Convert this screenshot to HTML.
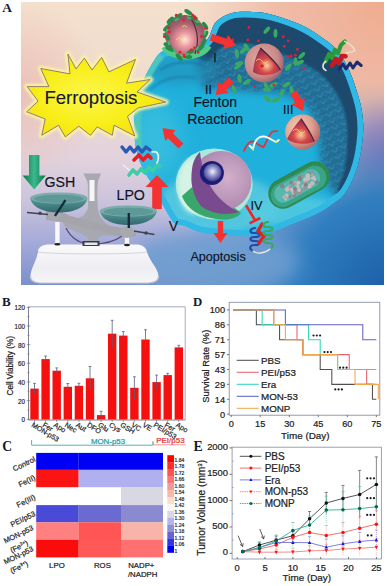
<!DOCTYPE html>
<html><head><meta charset="utf-8"><style>
html,body{margin:0;padding:0;background:#fff;}
svg{display:block;}
text{font-family:"Liberation Sans", sans-serif;}
.lab{font-family:"Liberation Serif", serif;font-weight:bold;}
</style></head><body>
<svg width="387" height="586" viewBox="0 0 387 586">
<rect width="387" height="586" fill="#fff"/>

<defs>
  <clipPath id="clipA"><rect x="21" y="2" width="363" height="283"/></clipPath>
  <clipPath id="clipCell"><path d="M174.4,223.0 C170.9,219.8 167.6,213.2 164.0,207.0 C160.4,200.8 156.7,192.8 153.0,186.0 C149.3,179.2 144.5,172.8 141.6,166.0 C138.7,159.2 136.7,152.3 135.5,145.5 C134.3,138.7 134.6,131.2 134.5,125.0 C134.4,118.8 134.4,113.5 135.0,108.0 C135.6,102.5 136.5,96.8 138.0,92.0 C139.5,87.2 141.6,83.8 144.0,79.0 C146.4,74.2 149.9,67.3 152.6,63.0 C155.3,58.7 157.1,55.2 160.0,53.0 C162.9,50.8 165.0,50.0 170.0,50.0 C175.0,50.0 183.8,54.7 190.0,53.0 C196.2,51.3 202.7,45.2 207.0,40.0 C211.3,34.8 211.8,26.5 216.0,22.0 C220.2,17.5 225.8,14.7 232.0,13.0 C238.2,11.3 246.2,11.7 253.0,12.0 C259.8,12.3 265.0,12.8 273.0,15.0 C281.0,17.2 293.0,21.3 301.0,25.0 C309.0,28.7 315.0,32.8 321.0,37.0 C327.0,41.2 332.3,44.5 337.0,50.0 C341.7,55.5 345.7,63.0 349.0,70.0 C352.3,77.0 354.8,85.0 357.0,92.0 C359.2,99.0 361.0,104.8 362.0,112.0 C363.0,119.2 363.7,126.2 363.0,135.0 C362.3,143.8 360.8,155.5 358.0,165.0 C355.2,174.5 350.3,185.5 346.0,192.0 C341.7,198.5 337.0,200.3 332.0,204.0 C327.0,207.7 322.3,210.8 316.0,214.0 C309.7,217.2 301.3,220.0 294.0,223.0 C286.7,226.0 279.3,229.8 272.0,232.0 C264.7,234.2 257.8,235.5 250.0,236.0 C242.2,236.5 233.3,235.7 225.0,235.0 C216.7,234.3 206.7,233.5 200.0,232.0 C193.3,230.5 189.3,227.5 185.0,226.0 C180.7,224.5 177.9,226.2 174.4,223.0 Z"/></clipPath>
  <filter id="blur2" x="-20%" y="-20%" width="140%" height="140%"><feGaussianBlur stdDeviation="2"/></filter>
  <filter id="blur4" x="-30%" y="-30%" width="160%" height="160%"><feGaussianBlur stdDeviation="4"/></filter>
  <filter id="blur1" x="-20%" y="-20%" width="140%" height="140%"><feGaussianBlur stdDeviation="1"/></filter>
  <filter id="blur8" x="-50%" y="-50%" width="200%" height="200%"><feGaussianBlur stdDeviation="10"/></filter>
  <pattern id="scales" x="0" y="0" width="10" height="7" patternUnits="userSpaceOnUse" patternTransform="rotate(-25)">
    <path d="M0,7 Q5,-1 10,7" fill="none" stroke="#3c90b0" stroke-width="1.1"/>
    <path d="M-5,3.5 Q0,-4.5 5,3.5 M5,3.5 Q10,-4.5 15,3.5" fill="none" stroke="#1e5a7c" stroke-width="0.8"/>
  </pattern>
  <linearGradient id="bgV" x1="0" y1="2" x2="0" y2="285" gradientUnits="userSpaceOnUse">
    <stop offset="0" stop-color="#f4e0cc"/>
    <stop offset="0.3" stop-color="#f0dcd0"/>
    <stop offset="0.55" stop-color="#e2d2dc"/>
    <stop offset="0.7" stop-color="#ccc4dc"/>
    <stop offset="0.85" stop-color="#a4aad8"/>
    <stop offset="1" stop-color="#7a90cc"/>
  </linearGradient>
  <radialGradient id="bgL" cx="15" cy="90" r="90" gradientUnits="userSpaceOnUse">
    <stop offset="0" stop-color="#eab8b0" stop-opacity="0.8"/>
    <stop offset="1" stop-color="#eab8b0" stop-opacity="0"/>
  </radialGradient>
  <radialGradient id="bgTR" cx="384" cy="2" r="200" gradientUnits="userSpaceOnUse">
    <stop offset="0" stop-color="#f0ac90" stop-opacity="1"/>
    <stop offset="0.55" stop-color="#eeb4a0" stop-opacity="0.8"/>
    <stop offset="1" stop-color="#f0c0b0" stop-opacity="0"/>
  </radialGradient>
  <radialGradient id="bgR" cx="392" cy="155" r="62" gradientUnits="userSpaceOnUse">
    <stop offset="0" stop-color="#b064b4" stop-opacity="1"/>
    <stop offset="0.5" stop-color="#c078b4" stop-opacity="0.7"/>
    <stop offset="1" stop-color="#d090b0" stop-opacity="0"/>
  </radialGradient>
  <radialGradient id="bgBR" cx="390" cy="290" r="210" gradientUnits="userSpaceOnUse">
    <stop offset="0" stop-color="#1c5ea8" stop-opacity="1"/>
    <stop offset="0.45" stop-color="#2a7cbe" stop-opacity="0.95"/>
    <stop offset="1" stop-color="#5a90c8" stop-opacity="0"/>
  </radialGradient>
  <radialGradient id="npG" cx="0.5" cy="0.62" r="0.6">
    <stop offset="0" stop-color="#fce8e0"/>
    <stop offset="0.3" stop-color="#ec98a0"/>
    <stop offset="0.7" stop-color="#a86070"/>
    <stop offset="1" stop-color="#8a5060"/>
  </radialGradient>
  <radialGradient id="np2G" cx="0.4" cy="0.4" r="0.65">
    <stop offset="0" stop-color="#e4aca4"/>
    <stop offset="0.7" stop-color="#c88888"/>
    <stop offset="1" stop-color="#9a6070"/>
  </radialGradient>
  <radialGradient id="np3G" cx="0.35" cy="0.35" r="0.7">
    <stop offset="0" stop-color="#f6c8b0"/>
    <stop offset="0.6" stop-color="#e0a090"/>
    <stop offset="1" stop-color="#b06868"/>
  </radialGradient>
  <radialGradient id="coreG" cx="0.5" cy="0.65" r="0.6">
    <stop offset="0" stop-color="#f8d0a0"/>
    <stop offset="0.45" stop-color="#d84848"/>
    <stop offset="1" stop-color="#8a3050"/>
  </radialGradient>
  <radialGradient id="starG" cx="0.45" cy="0.5" r="0.6">
    <stop offset="0" stop-color="#fcf650"/>
    <stop offset="0.6" stop-color="#f8ee18"/>
    <stop offset="1" stop-color="#f4e010"/>
  </radialGradient>
  <linearGradient id="greenArr" x1="0" y1="0" x2="1" y2="0">
    <stop offset="0" stop-color="#08783e"/>
    <stop offset="0.5" stop-color="#3cb890"/>
    <stop offset="1" stop-color="#08783e"/>
  </linearGradient>
  <linearGradient id="baseG" x1="0" y1="0" x2="0" y2="1">
    <stop offset="0" stop-color="#fafafc"/>
    <stop offset="0.6" stop-color="#eeeef2"/>
    <stop offset="1" stop-color="#f6f6f8"/>
  </linearGradient>
  <radialGradient id="nucG" cx="0.6" cy="0.45" r="0.6">
    <stop offset="0" stop-color="#d4b0cc"/>
    <stop offset="1" stop-color="#a884ac"/>
  </radialGradient>
  <radialGradient id="nucleolusG" cx="0.5" cy="0.45" r="0.6">
    <stop offset="0" stop-color="#f0f0ff"/>
    <stop offset="0.45" stop-color="#9090c8"/>
    <stop offset="1" stop-color="#2a2a80"/>
  </radialGradient>
  <linearGradient id="panG" x1="0" y1="0" x2="0" y2="1">
    <stop offset="0" stop-color="#5a9a9a"/>
    <stop offset="1" stop-color="#306a6c"/>
  </linearGradient>
</defs>
<g clip-path="url(#clipA)">
  <rect x="21" y="2" width="363" height="283" fill="url(#bgV)"/>
  <rect x="21" y="2" width="363" height="283" fill="url(#bgL)"/>
  <rect x="21" y="2" width="363" height="283" fill="url(#bgTR)"/>
  <rect x="21" y="2" width="363" height="283" fill="url(#bgR)"/>
  <rect x="21" y="2" width="363" height="283" fill="url(#bgBR)"/>
  <ellipse cx="215" cy="262" rx="85" ry="32" fill="#6e9ed0" opacity="0.9" filter="url(#blur8)"/>

  <!-- cell -->
  <g clip-path="url(#clipCell)">
    <rect x="120" y="0" width="260" height="250" fill="#20b0dc"/>
    <path d="M196.0,50.0 C197.3,39.0 206.0,28.7 212.0,22.0 C218.0,15.3 225.2,12.2 232.0,10.0 C238.8,7.8 246.2,8.7 253.0,9.0 C259.8,9.3 265.0,9.8 273.0,12.0 C281.0,14.2 293.0,18.3 301.0,22.0 C309.0,25.7 314.7,29.7 321.0,34.0 C327.3,38.3 333.8,42.0 339.0,48.0 C344.2,54.0 348.5,62.5 352.0,70.0 C355.5,77.5 357.7,85.8 360.0,93.0 C362.3,100.2 364.8,106.0 366.0,113.0 C367.2,120.0 367.5,127.2 367.0,135.0 C366.5,142.8 365.2,152.2 363.0,160.0 C360.8,167.8 357.2,176.0 354.0,182.0 C350.8,188.0 347.0,193.7 344.0,196.0 C341.0,198.3 339.0,198.7 336.0,196.0 C333.0,193.3 328.7,186.8 326.0,180.0 C323.3,173.2 321.3,163.3 320.0,155.0 C318.7,146.7 320.3,138.2 318.0,130.0 C315.7,121.8 311.7,112.0 306.0,106.0 C300.3,100.0 292.0,96.3 284.0,94.0 C276.0,91.7 266.0,92.7 258.0,92.0 C250.0,91.3 242.7,91.0 236.0,90.0 C229.3,89.0 223.3,86.3 218.0,86.0 C212.7,85.7 207.7,94.0 204.0,88.0 C200.3,82.0 194.7,61.0 196.0,50.0 Z" fill="#24709a" filter="url(#blur4)"/>
    <path d="M196.0,50.0 C197.3,39.0 206.0,28.7 212.0,22.0 C218.0,15.3 225.2,12.2 232.0,10.0 C238.8,7.8 246.2,8.7 253.0,9.0 C259.8,9.3 265.0,9.8 273.0,12.0 C281.0,14.2 293.0,18.3 301.0,22.0 C309.0,25.7 314.7,29.7 321.0,34.0 C327.3,38.3 333.8,42.0 339.0,48.0 C344.2,54.0 348.5,62.5 352.0,70.0 C355.5,77.5 357.7,85.8 360.0,93.0 C362.3,100.2 364.8,106.0 366.0,113.0 C367.2,120.0 367.5,127.2 367.0,135.0 C366.5,142.8 365.2,152.2 363.0,160.0 C360.8,167.8 357.2,176.0 354.0,182.0 C350.8,188.0 347.0,193.7 344.0,196.0 C341.0,198.3 339.0,198.7 336.0,196.0 C333.0,193.3 328.7,186.8 326.0,180.0 C323.3,173.2 321.3,163.3 320.0,155.0 C318.7,146.7 320.3,138.2 318.0,130.0 C315.7,121.8 311.7,112.0 306.0,106.0 C300.3,100.0 292.0,96.3 284.0,94.0 C276.0,91.7 266.0,92.7 258.0,92.0 C250.0,91.3 242.7,91.0 236.0,90.0 C229.3,89.0 223.3,86.3 218.0,86.0 C212.7,85.7 207.7,94.0 204.0,88.0 C200.3,82.0 194.7,61.0 196.0,50.0 Z" fill="url(#scales)" opacity="0.7"/>
    <path d="M196.0,50.0 C197.0,43.3 206.0,28.7 212.0,22.0 C218.0,15.3 225.2,12.2 232.0,10.0 C238.8,7.8 246.2,8.7 253.0,9.0 C259.8,9.3 265.0,9.8 273.0,12.0 C281.0,14.2 293.0,18.3 301.0,22.0 C309.0,25.7 314.7,29.7 321.0,34.0 C327.3,38.3 333.8,42.0 339.0,48.0 C344.2,54.0 348.5,62.5 352.0,70.0 C355.5,77.5 357.7,85.8 360.0,93.0 C362.3,100.2 364.8,106.0 366.0,113.0 C367.2,120.0 367.5,127.2 367.0,135.0 C366.5,142.8 365.2,152.2 363.0,160.0 C360.8,167.8 357.2,176.0 354.0,182.0 C350.8,188.0 346.7,194.7 344.0,196.0 C341.3,197.3 338.0,194.0 338.0,190.0 C338.0,186.0 342.5,178.7 344.0,172.0 C345.5,165.3 346.7,159.0 347.0,150.0 C347.3,141.0 347.8,127.7 346.0,118.0 C344.2,108.3 340.7,99.7 336.0,92.0 C331.3,84.3 324.7,77.3 318.0,72.0 C311.3,66.7 303.7,63.7 296.0,60.0 C288.3,56.3 279.7,52.7 272.0,50.0 C264.3,47.3 256.7,45.0 250.0,44.0 C243.3,43.0 237.3,43.0 232.0,44.0 C226.7,45.0 222.3,47.0 218.0,50.0 C213.7,53.0 209.7,62.0 206.0,62.0 C202.3,62.0 195.0,56.7 196.0,50.0 Z" fill="#1a4a6c" filter="url(#blur1)"/>
    <ellipse cx="182" cy="70" rx="36" ry="15" fill="#2490b8" opacity="0.6" filter="url(#blur4)"/>
    <ellipse cx="155" cy="140" rx="26" ry="40" fill="#44c4e0" opacity="0.6" filter="url(#blur8)"/>
    <g fill="none" stroke="#1a6488" stroke-width="1.6" opacity="0.55" filter="url(#blur1)">
      <path d="M150,90 C160,80 176,74 196,78"/>
      <path d="M160,70 C172,62 188,60 206,66"/>
      <path d="M190,58 C200,56 210,58 220,64"/>
    </g>
    <ellipse cx="218" cy="205" rx="62" ry="30" fill="#60cce0" opacity="0.8" filter="url(#blur4)"/>
    <ellipse cx="295" cy="212" rx="50" ry="16" fill="#58cce0" opacity="0.8" filter="url(#blur4)"/>
    <path d="M174.4,223.0 C170.9,219.8 167.6,213.2 164.0,207.0 C160.4,200.8 156.7,192.8 153.0,186.0 C149.3,179.2 144.5,172.8 141.6,166.0 C138.7,159.2 136.7,152.3 135.5,145.5 C134.3,138.7 134.6,131.2 134.5,125.0 C134.4,118.8 134.4,113.5 135.0,108.0 C135.6,102.5 136.5,96.8 138.0,92.0 C139.5,87.2 141.6,83.8 144.0,79.0 C146.4,74.2 149.9,67.3 152.6,63.0 C155.3,58.7 157.1,55.2 160.0,53.0 C162.9,50.8 165.0,50.0 170.0,50.0 C175.0,50.0 183.8,54.7 190.0,53.0 C196.2,51.3 202.7,45.2 207.0,40.0 C211.3,34.8 211.8,26.5 216.0,22.0 C220.2,17.5 225.8,14.7 232.0,13.0 C238.2,11.3 246.2,11.7 253.0,12.0 C259.8,12.3 265.0,12.8 273.0,15.0 C281.0,17.2 293.0,21.3 301.0,25.0 C309.0,28.7 315.0,32.8 321.0,37.0 C327.0,41.2 332.3,44.5 337.0,50.0 C341.7,55.5 345.7,63.0 349.0,70.0 C352.3,77.0 354.8,85.0 357.0,92.0 C359.2,99.0 361.0,104.8 362.0,112.0 C363.0,119.2 363.7,126.2 363.0,135.0 C362.3,143.8 360.8,155.5 358.0,165.0 C355.2,174.5 350.3,185.5 346.0,192.0 C341.7,198.5 337.0,200.3 332.0,204.0 C327.0,207.7 322.3,210.8 316.0,214.0 C309.7,217.2 301.3,220.0 294.0,223.0 C286.7,226.0 279.3,229.8 272.0,232.0 C264.7,234.2 257.8,235.5 250.0,236.0 C242.2,236.5 233.3,235.7 225.0,235.0 C216.7,234.3 206.7,233.5 200.0,232.0 C193.3,230.5 189.3,227.5 185.0,226.0 C180.7,224.5 177.9,226.2 174.4,223.0 Z" fill="none" stroke="#32b8e4" stroke-width="11.5"/>
    <path d="M160,54 C150,64 142,78 138,96 C135,112 135,130 137,150" fill="none" stroke="#50c8bc" stroke-width="11" opacity="0.9" filter="url(#blur1)"/>
  </g>

  <!-- star glow + star -->
  <polygon points="67.9,54 70,73.9 40.8,68.5 48.9,86.6 27.2,86.6 38.1,101.1 26.7,111.8 45.2,119 41.8,135.3 58.6,125.2 65.3,137 78.7,126.2 90.5,135.3 97.2,126.9 112.3,135.3 114,125.2 134.8,136 127.5,116.3 137.9,108 165.7,102 137,92 150.2,79.5 126.5,83.2 135.5,59.4 108.9,71.9 101.7,57.4 92,70 84.4,58.1 76.1,68.9" fill="#fcf890" stroke="#faf4a0" stroke-width="6" stroke-linejoin="round" opacity="0.9" filter="url(#blur1)"/>
  <polygon points="67.9,54 70,73.9 40.8,68.5 48.9,86.6 27.2,86.6 38.1,101.1 26.7,111.8 45.2,119 41.8,135.3 58.6,125.2 65.3,137 78.7,126.2 90.5,135.3 97.2,126.9 112.3,135.3 114,125.2 134.8,136 127.5,116.3 137.9,108 165.7,102 137,92 150.2,79.5 126.5,83.2 135.5,59.4 108.9,71.9 101.7,57.4 92,70 84.4,58.1 76.1,68.9" fill="url(#starG)" stroke="#8a7070" stroke-width="0.9" stroke-linejoin="miter"/>
  <text x="44.4" y="103.8" font-size="18.6" fill="#141830" stroke="#141830" stroke-width="0.12">Ferroptosis</text>

  <!-- nanoparticle 1 -->
  <path d="M164,47 C170,59 200,61 209,46" fill="none" stroke="#50cc88" stroke-width="5.5"/>
  <circle cx="185" cy="35" r="20" fill="url(#npG)"/>
  <path d="M189,16 C197,26 200,40 195,54" fill="none" stroke="#5a2838" stroke-width="1.2"/>
  <path d="M176,40 q3,-4 6,0 q3,4 6,0 M182,27 q2,-3 5,0" fill="none" stroke="#f0e070" stroke-width="0.8"/>
  <g fill="#2a8a4a"><ellipse cx="205.4" cy="34.7" rx="4.6" ry="2.1" transform="rotate(119 205.4 34.7)"/><ellipse cx="203.6" cy="42.5" rx="4.6" ry="2.1" transform="rotate(118 203.6 42.5)"/><ellipse cx="200.5" cy="47.8" rx="4.6" ry="2.1" transform="rotate(139 200.5 47.8)"/><ellipse cx="190.3" cy="51.8" rx="4.6" ry="2.1" transform="rotate(149 190.3 51.8)"/><ellipse cx="187.7" cy="56.7" rx="4.6" ry="2.1" transform="rotate(187 187.7 56.7)"/><ellipse cx="179.2" cy="57.2" rx="4.6" ry="2.1" transform="rotate(227 179.2 57.2)"/><ellipse cx="169.7" cy="48.9" rx="4.6" ry="2.1" transform="rotate(204 169.7 48.9)"/><ellipse cx="167.7" cy="45.3" rx="4.6" ry="2.1" transform="rotate(208 167.7 45.3)"/><ellipse cx="166.6" cy="36.7" rx="4.6" ry="2.1" transform="rotate(232 166.6 36.7)"/><ellipse cx="166.8" cy="27.7" rx="4.6" ry="2.1" transform="rotate(316 166.8 27.7)"/><ellipse cx="170.3" cy="20.2" rx="4.6" ry="2.1" transform="rotate(315 170.3 20.2)"/><ellipse cx="178.3" cy="16.4" rx="4.6" ry="2.1" transform="rotate(325 178.3 16.4)"/><ellipse cx="188.4" cy="12.3" rx="4.6" ry="2.1" transform="rotate(392 188.4 12.3)"/><ellipse cx="193.3" cy="18.0" rx="4.6" ry="2.1" transform="rotate(367 193.3 18.0)"/><ellipse cx="196.5" cy="21.9" rx="4.6" ry="2.1" transform="rotate(420 196.5 21.9)"/><ellipse cx="205.1" cy="25.9" rx="4.6" ry="2.1" transform="rotate(418 205.1 25.9)"/></g>
  <g fill="#48b070"><ellipse cx="204.7" cy="32.7" rx="2.6" ry="1.2" transform="rotate(94 204.7 32.7)"/><ellipse cx="197.2" cy="48.3" rx="2.6" ry="1.2" transform="rotate(120 197.2 48.3)"/><ellipse cx="187.0" cy="54.5" rx="2.6" ry="1.2" transform="rotate(160 187.0 54.5)"/><ellipse cx="174.8" cy="50.6" rx="2.6" ry="1.2" transform="rotate(233 174.8 50.6)"/><ellipse cx="169.0" cy="43.0" rx="2.6" ry="1.2" transform="rotate(272 169.0 43.0)"/><ellipse cx="167.8" cy="29.6" rx="2.6" ry="1.2" transform="rotate(309 167.8 29.6)"/><ellipse cx="176.8" cy="19.4" rx="2.6" ry="1.2" transform="rotate(336 176.8 19.4)"/><ellipse cx="188.9" cy="17.8" rx="2.6" ry="1.2" transform="rotate(383 188.9 17.8)"/><ellipse cx="197.6" cy="21.7" rx="2.6" ry="1.2" transform="rotate(374 197.6 21.7)"/></g>
  <g fill="#e42030"><circle cx="183.9" cy="55.1" r="1.4"/><circle cx="176.3" cy="15.2" r="1.4"/><circle cx="191.3" cy="49.8" r="1.4"/><circle cx="194.6" cy="47.8" r="1.4"/><circle cx="183.5" cy="19.9" r="1.4"/><circle cx="169.4" cy="31.9" r="1.4"/><circle cx="180.0" cy="52.2" r="1.4"/><circle cx="195.2" cy="18.4" r="1.4"/><circle cx="201.4" cy="36.5" r="1.4"/><circle cx="198.2" cy="52.4" r="1.4"/><circle cx="192.8" cy="15.2" r="1.4"/><circle cx="194.6" cy="16.6" r="1.4"/><circle cx="205.1" cy="28.4" r="1.4"/><circle cx="184.1" cy="56.6" r="1.4"/><circle cx="164.3" cy="36.7" r="1.4"/><circle cx="168.6" cy="28.0" r="1.4"/></g>
  <!-- nanoparticle 2 -->
  <g fill="#3aa862"><ellipse cx="281.9" cy="92.9" rx="4.4" ry="2" transform="rotate(114 281.9 92.9)"/><ellipse cx="237.8" cy="66.5" rx="4.4" ry="2" transform="rotate(143 237.8 66.5)"/><ellipse cx="275.5" cy="33.4" rx="4.4" ry="2" transform="rotate(91 275.5 33.4)"/><ellipse cx="266.2" cy="86.0" rx="4.4" ry="2" transform="rotate(67 266.2 86.0)"/><ellipse cx="243.4" cy="50.6" rx="4.4" ry="2" transform="rotate(143 243.4 50.6)"/><ellipse cx="267.2" cy="89.8" rx="4.4" ry="2" transform="rotate(8 267.2 89.8)"/><ellipse cx="299.8" cy="62.5" rx="4.4" ry="2" transform="rotate(158 299.8 62.5)"/><ellipse cx="246.6" cy="47.3" rx="4.4" ry="2" transform="rotate(59 246.6 47.3)"/><ellipse cx="239.2" cy="63.4" rx="4.4" ry="2" transform="rotate(171 239.2 63.4)"/><ellipse cx="246.8" cy="81.9" rx="4.4" ry="2" transform="rotate(147 246.8 81.9)"/><ellipse cx="291.6" cy="90.4" rx="4.4" ry="2" transform="rotate(82 291.6 90.4)"/><ellipse cx="236.9" cy="53.7" rx="4.4" ry="2" transform="rotate(87 236.9 53.7)"/><ellipse cx="273.3" cy="84.8" rx="4.4" ry="2" transform="rotate(156 273.3 84.8)"/><ellipse cx="267.6" cy="99.1" rx="4.4" ry="2" transform="rotate(38 267.6 99.1)"/><ellipse cx="301.7" cy="55.6" rx="4.4" ry="2" transform="rotate(136 301.7 55.6)"/><ellipse cx="266.8" cy="30.2" rx="4.4" ry="2" transform="rotate(131 266.8 30.2)"/><ellipse cx="286.5" cy="84.6" rx="4.4" ry="2" transform="rotate(149 286.5 84.6)"/><ellipse cx="275.9" cy="99.9" rx="4.4" ry="2" transform="rotate(160 275.9 99.9)"/><ellipse cx="239.6" cy="78.7" rx="4.4" ry="2" transform="rotate(81 239.6 78.7)"/><ellipse cx="234.1" cy="89.2" rx="4.4" ry="2" transform="rotate(70 234.1 89.2)"/><ellipse cx="288.4" cy="67.1" rx="4.4" ry="2" transform="rotate(129 288.4 67.1)"/><ellipse cx="295.6" cy="61.6" rx="4.4" ry="2" transform="rotate(88 295.6 61.6)"/></g>
  <g fill="#e42030"><circle cx="287.9" cy="56.6" r="1.4"/><circle cx="303.7" cy="68.9" r="1.4"/><circle cx="273.9" cy="85.1" r="1.4"/><circle cx="247.8" cy="40.0" r="1.4"/><circle cx="284.3" cy="46.3" r="1.4"/><circle cx="291.1" cy="56.0" r="1.4"/><circle cx="233.0" cy="40.0" r="1.4"/><circle cx="248.9" cy="27.5" r="1.4"/><circle cx="258.3" cy="40.9" r="1.4"/><circle cx="288.2" cy="40.9" r="1.4"/><circle cx="254.7" cy="86.6" r="1.4"/><circle cx="283.3" cy="36.7" r="1.4"/><circle cx="297.4" cy="49.4" r="1.4"/><circle cx="295.4" cy="55.2" r="1.4"/></g>
  <circle cx="264.2" cy="63" r="19.5" fill="url(#np2G)"/>
  <path d="M260.3,48 C267,54 276,62 280.5,70 C272,76 261,77 253,72 C254,63 256,55 260.3,48 Z" fill="url(#coreG)"/>
  <path d="M260.3,48 C267,54 276,62 280.5,70" fill="none" stroke="#502040" stroke-width="1.3"/>
  <path d="M256,61 q3,-4 6,0 q3,4 6,0" fill="none" stroke="#f8e070" stroke-width="0.8"/>
  <circle cx="262" cy="66" r="1.8" fill="#e02020"/>
  <!-- nanoparticle 3 -->
  <circle cx="302.7" cy="132" r="17.5" fill="url(#np3G)"/>
  <path d="M301,118.7 C306,126 311,134 314.3,141.4 C306,145 295,145 287,139 C291,131 296,124 301,118.7 Z" fill="url(#coreG)"/>
  <path d="M301,118.7 C306,126 311,134 314.3,141.4" fill="none" stroke="#502040" stroke-width="1.2"/>
  <path d="M293,131 q3,-4 6,0 q3,4 6,0" fill="none" stroke="#f8e070" stroke-width="0.8"/>

  <!-- mitochondria -->
  <g transform="rotate(-29 299 185)">
    <rect x="266" y="170" width="66" height="30" rx="15" fill="#2c8a52"/>
    <rect x="268" y="174" width="60" height="24" rx="12" fill="#3aa486"/>
    <rect x="272" y="176" width="50" height="18" rx="9" fill="#58b8b0"/>
    <circle cx="302.7" cy="188.4" r="2.2" fill="#b4a8a8"/><circle cx="310.9" cy="188.9" r="1.5" fill="#b4a8a8"/><circle cx="313.2" cy="179.6" r="1.8" fill="#8a8088"/><circle cx="293.5" cy="179.4" r="1.5" fill="#8a8088"/><circle cx="294.5" cy="180.5" r="2.2" fill="#9a9098"/><circle cx="285.1" cy="189.2" r="1.4" fill="#9a9098"/><circle cx="283.8" cy="178.0" r="2.2" fill="#8a8088"/><circle cx="308.4" cy="191.4" r="1.4" fill="#8a8088"/><circle cx="290.0" cy="191.5" r="1.8" fill="#8a8088"/><circle cx="285.9" cy="191.6" r="1.4" fill="#9a9098"/><circle cx="290.4" cy="183.1" r="1.4" fill="#8a8088"/><circle cx="289.0" cy="182.6" r="2.2" fill="#b4a8a8"/><circle cx="301.6" cy="187.9" r="1.3" fill="#c8bcbc"/><circle cx="310.1" cy="184.7" r="1.6" fill="#9a9098"/><circle cx="297.0" cy="180.5" r="1.5" fill="#b4a8a8"/><circle cx="315.1" cy="183.0" r="1.7" fill="#9a9098"/><circle cx="292.9" cy="186.1" r="1.2" fill="#b4a8a8"/><circle cx="305.9" cy="186.7" r="2.3" fill="#b4a8a8"/><circle cx="307.7" cy="191.0" r="2.3" fill="#c8bcbc"/><circle cx="298.5" cy="190.5" r="1.5" fill="#9a9098"/><circle cx="283.1" cy="188.5" r="2.2" fill="#c8bcbc"/><circle cx="280.4" cy="191.2" r="1.3" fill="#c8bcbc"/><circle cx="298.5" cy="183.1" r="1.4" fill="#c8bcbc"/><circle cx="314.1" cy="185.6" r="1.6" fill="#c8bcbc"/><circle cx="290.6" cy="189.2" r="2.0" fill="#c8bcbc"/><circle cx="316.9" cy="180.3" r="1.3" fill="#9a9098"/><circle cx="280.2" cy="188.4" r="1.6" fill="#c8bcbc"/><circle cx="296.3" cy="183.9" r="1.3" fill="#b4a8a8"/><circle cx="309.5" cy="182.7" r="1.4" fill="#8a8088"/><circle cx="303.0" cy="189.0" r="1.3" fill="#9a9098"/><circle cx="293.2" cy="178.8" r="1.7" fill="#8a8088"/><circle cx="296.2" cy="192.0" r="2.2" fill="#9a9098"/><circle cx="315.5" cy="187.6" r="1.6" fill="#c8bcbc"/><circle cx="290.1" cy="183.7" r="1.4" fill="#9a9098"/><circle cx="310.2" cy="185.4" r="1.4" fill="#9a9098"/><circle cx="312.0" cy="180.5" r="1.8" fill="#c8bcbc"/><circle cx="281.4" cy="189.1" r="1.6" fill="#b4a8a8"/><circle cx="307.9" cy="183.1" r="2.0" fill="#c8bcbc"/><circle cx="310.7" cy="181.7" r="2.4" fill="#c8bcbc"/><circle cx="315.4" cy="182.8" r="1.4" fill="#b4a8a8"/><circle cx="297.0" cy="188.8" r="1.6" fill="#c8bcbc"/><circle cx="296.6" cy="189.4" r="2.0" fill="#c8bcbc"/><circle cx="292.2" cy="187.0" r="2.1" fill="#9a9098"/><circle cx="292.3" cy="189.8" r="2.2" fill="#9a9098"/><circle cx="316.1" cy="191.4" r="1.8" fill="#8a8088"/><circle cx="286.5" cy="183.1" r="2.2" fill="#c8bcbc"/><circle cx="305.3" cy="188.1" r="2.1" fill="#8a8088"/><circle cx="302.4" cy="191.1" r="1.8" fill="#9a9098"/><circle cx="290.5" cy="185.7" r="2.2" fill="#c8bcbc"/><circle cx="306.4" cy="178.4" r="1.4" fill="#9a9098"/><circle cx="302.7" cy="180.5" r="2.1" fill="#8a8088"/><circle cx="303.0" cy="178.6" r="1.8" fill="#8a8088"/><circle cx="285.3" cy="190.5" r="1.3" fill="#8a8088"/><circle cx="297.3" cy="185.7" r="1.7" fill="#c8bcbc"/><circle cx="293.5" cy="186.6" r="1.9" fill="#8a8088"/><circle cx="306.3" cy="183.2" r="1.6" fill="#c8bcbc"/><circle cx="311.5" cy="190.1" r="2.0" fill="#c8bcbc"/><circle cx="315.6" cy="185.7" r="1.6" fill="#c8bcbc"/><circle cx="299.7" cy="182.8" r="1.9" fill="#c8bcbc"/><circle cx="310.1" cy="183.9" r="2.2" fill="#c8bcbc"/>
  </g>
  <!-- nucleus -->
  <ellipse cx="214.2" cy="184" rx="38.5" ry="35.5" fill="#ace8da"/>
  <ellipse cx="194" cy="186" rx="16" ry="28" fill="#dcf6e6" opacity="0.85" filter="url(#blur2)"/>
  <path d="M182,196 C187,210 202,219 224,219.5 C232,219.5 238,217 241,213 L200,180 Z" fill="#3aa66a"/>
  <circle cx="221.5" cy="181" r="30" fill="url(#nucG)"/>
  <path d="M200,152 C203,180 215,200 239,212 C227,216 211,214 201,206 C193,197 190,182 192,169 C193,161 196,156 200,152 Z" fill="#7a4a8e"/>
  <circle cx="211.9" cy="172.9" r="12" fill="#1c1c78"/>
  <circle cx="212.5" cy="172.5" r="9" fill="url(#nucleolusG)"/>
  <!-- red arrows -->
  <polygon points="209.8,40.4 224.5,45.3 223.2,49.1 236.0,45.5 227.9,34.9 226.7,38.7 212.0,33.8" fill="#f43232"/>
  <polygon points="229.1,77.6 221.2,85.0 218.5,82.0 215.5,95.0 228.7,93.0 226.0,90.1 233.9,82.8" fill="#f43232"/>
  <polygon points="290.5,93.6 295.0,102.7 291.4,104.5 303.0,111.0 304.8,97.8 301.3,99.6 296.7,90.4" fill="#f43232"/>
  <polygon points="183.4,143.5 172.8,133.2 175.6,130.3 162.5,128.0 165.2,141.0 167.9,138.2 178.6,148.5" fill="#f43232"/>
  <polygon points="161.8,209.0 161.8,187.0 168.5,187.0 157.0,175.0 145.5,187.0 152.2,187.0 152.2,209.0" fill="#f43232"/>
  <polygon points="217.8,221.0 217.8,233.0 213.5,233.0 220.5,243.0 227.5,233.0 223.2,233.0 223.2,221.0" fill="#f43232"/>
  <path d="M246,205.3 L255,220 M249.5,223.4 L260.3,218" stroke="#f02424" stroke-width="2.6" fill="none"/>

  <!-- protein ribbons -->
  <g fill="none" stroke-linecap="round">
    <path d="M325.7,61.3 L329,54 L332,58 L335,50 L338,53 L341,45 L344.8,41.4" stroke="#2a9a3a" stroke-width="4.2" stroke-linejoin="round"/>
    <path d="M344.8,41.4 C350,44 354,48 354.8,50.6 C352,52 349,53 346.3,52.8" stroke="#e4e0c8" stroke-width="1.6"/>
    <path d="M332,65.5 L336,59 L339,63 L342,56 L345.5,56.3" stroke="#c81820" stroke-width="4.6" stroke-linejoin="round"/>
    <path d="M339.1,69.1 L343,64 L346,69 L350,63 L353,68 L357,62 L361.2,65.5" stroke="#1a2a70" stroke-width="3" stroke-linejoin="round"/>
    <path d="M325.7,61.3 C322,64 322,69 326,70.5" stroke="#e8e4d0" stroke-width="1.6"/>
    <path d="M122,147 L126,152 L130,147 L134,152 L138,147 L142,152 L146,147 L150,150" stroke="#2a5ab4" stroke-width="3.4" stroke-linejoin="round"/>
    <path d="M134,160 L139,155 L143,160 L148,155 L151,158" stroke="#ec1c24" stroke-width="3.6" stroke-linejoin="round"/>
    <path d="M129,175 L133,170 L137,174 L141,169 L145,173 L149,167 L153,171 L157,165 L160,166" stroke="#3ccca8" stroke-width="3.6" stroke-linejoin="round"/>
    <path d="M152,152 C158,150 160,156 157,163" stroke="#f4f4ec" stroke-width="1.6"/>
    <path d="M123,165 L129,170" stroke="#f0f0ea" stroke-width="1.4"/>
    <path d="M255,228 C249,229 249,233 255,233 C261,233 261,237 255,237 C249,237 249,241 255,241 C261,241 261,245 255,245 C249,245 249,249 253,251" stroke="#2448a8" stroke-width="2.2"/>
    <path d="M262,224 L258,231 L264,236 L259,243" stroke="#e42020" stroke-width="3.4"/>
    <path d="M268,222 C262,223 262,227 268,227 C274,227 274,231 268,231 C262,231 262,235 268,235 C274,235 274,239 268,239 C262,239 262,243 268,243 C274,243 274,247 270,249" stroke="#38a860" stroke-width="2.2"/>
    <path d="M253,251 C256,254 264,254 270,249" stroke="#e8e8e0" stroke-width="1.3"/>
    <path d="M243.9,151 C246,146 248,142 251.6,141.3 C256,141 260,147 263.3,147.1 C266,144 269,134 272.3,131.6 L277.5,131" stroke="#e83030" stroke-width="1.7"/>
    <path d="M249.7,145.8 L252.9,149 C254,144 256,139 259.4,137.4 C262,136 264,136.5 265.8,136.8 C270,138 273,141 276.2,142 L278.8,140" stroke="#fafaf0" stroke-width="1.9"/>
    <circle cx="252.9" cy="149" r="1" fill="#f0e020"/><circle cx="276.2" cy="142" r="1" fill="#f0e020"/>
  </g>

  <!-- balance scale -->
  <path d="M38,252 C38,247 42,244.5 50,244.5 L136,244.5 C142,244.5 146,247 147,252 C150,262 158,268 158.5,276 C158.5,281 154,283 146,283 L42,283 C34,283 30.5,281 30.5,276 C31,268 36,262 38,252 Z" fill="url(#baseG)"/>
  <path d="M38,252 C50,254.5 136,254.5 147,252" fill="none" stroke="#d4d4dc" stroke-width="1"/>
  <path d="M30.5,276 C30.5,281 34,283 42,283 L146,283 C154,283 158.5,281 158.5,276" fill="none" stroke="#c8c8d2" stroke-width="1.2"/>
  <rect x="55.2" y="222" width="4.4" height="22" fill="#f8f8fa"/>
  <rect x="124.8" y="234" width="4.4" height="11" fill="#f8f8fa"/>
  <ellipse cx="57.4" cy="244.3" rx="3" ry="1.3" fill="#222"/>
  <ellipse cx="127" cy="245" rx="3" ry="1.3" fill="#222"/>
  <path d="M66,228 C72,240 82,244 92,244 C104,244 114,242 122,236" fill="none" stroke="#5a4876" stroke-width="1.3"/>
  <path d="M83.5,173.5 L101,173.5 L98,181 C97,190 97,200 98,210 C100,220 108,226 116,229 L124,229 L122,236 C112,236 102,234 98,238 L98,243 L88,243 L88,238 C84,234 74,232 64,226 L62,218 C72,220 84,220 87,210 C88,200 88,190 87,181 Z" fill="#a8a8b0"/>
  <path d="M87,181 C88,190 88,200 87,210" fill="none" stroke="#c8c8d0" stroke-width="1"/>
  <rect x="89.5" y="180" width="5" height="21" fill="#f6f6f8"/>
  <rect x="82.5" y="241" width="17" height="5" fill="#3a3a44"/>
  <rect x="84.5" y="242.5" width="13" height="2.5" fill="#e8e8ec"/>
  <path d="M46,209 C54,208 62,212 70,216 L90,221 L116,227 C124,228 130,229 136,231 L136,236 C128,237 120,236 112,234 L90,229 L68,223 C58,221 52,221 46,220 Z" fill="#a4a4aa"/>
  <ellipse cx="54" cy="215" rx="7" ry="6" fill="#a8a8b0"/>
  <ellipse cx="127" cy="232" rx="7" ry="6" fill="#a8a8b0"/>
  <line x1="27" y1="212.4" x2="48" y2="214.4" stroke="#404550" stroke-width="1.5"/>
  <circle cx="40" cy="213.3" r="1.8" fill="#404550"/>
  <line x1="134" y1="231" x2="154.4" y2="234.5" stroke="#404550" stroke-width="1.5"/>
  <circle cx="146" cy="233" r="1.8" fill="#404550"/>
  <path d="M30.2,198 C32,208 45,212.5 59,212.5 C73,212.5 86,208 87.5,198 Z" fill="url(#panG)"/>
  <ellipse cx="58.8" cy="198" rx="28.6" ry="5.6" fill="#7aacac"/>
  <ellipse cx="58.8" cy="198.8" rx="25" ry="4" fill="#5e9898"/>
  <path d="M100,211 C102,221 115,225 128,225 C141,225 155,221 157,211 Z" fill="url(#panG)"/>
  <ellipse cx="128.5" cy="211" rx="28.5" ry="5.6" fill="#7aacac"/>
  <ellipse cx="128.5" cy="211.8" rx="25" ry="4" fill="#5e9898"/>
  <path d="M65.3,200 C62,206 58,211 55,216" fill="none" stroke="#1a2a3a" stroke-width="2.4"/>
  <path d="M128.8,213 L128.8,228" stroke="#1a2a3a" stroke-width="2.4"/>

  <!-- green arrow -->
  <polygon points="29,155 39.4,155 39.4,175.5 45.8,175.5 34.2,189.5 22.6,175.5 29,175.5" fill="url(#greenArr)"/>

  <!-- text -->
  <g fill="#0e1424" stroke="#0e1424" stroke-width="0.15">
  <text x="44.5" y="186.6" font-size="14.2">GSH</text>
  <text x="116.5" y="199.8" font-size="14.2">LPO</text>
  <text x="168.8" y="231.4" font-size="14">V</text>
  <text x="250.5" y="209.8" font-size="12.8">IV</text>
  <text x="190.4" y="260.8" font-size="12.6">Apoptosis</text>
  <text x="213.2" y="62" font-size="12.4">I</text>
  <text x="205" y="93.5" font-size="12.4">II</text>
  <text x="283" y="114.2" font-size="12.4">III</text>
  <text x="215.2" y="106.5" font-size="14" text-anchor="middle">Fenton</text>
  <text x="215.2" y="123.6" font-size="14.2" text-anchor="middle">Reaction</text>
  </g>
</g>

<text class="lab" x="2.2" y="12.2" font-size="13.4" fill="#111a33">A</text>
<text class="lab" x="2.0" y="306.4" font-size="13" fill="#111a33">B</text>
<text class="lab" x="193.0" y="306.3" font-size="12.8" fill="#111a33">D</text>
<text class="lab" x="2.2" y="450.9" font-size="13.6" fill="#111a33">C</text>
<text class="lab" x="193.4" y="451.0" font-size="13.8" fill="#111a33">E</text>
<rect x="30.30" y="388.60" width="8.4" height="31.00" fill="#f50f0f"/>
<rect x="41.40" y="359.10" width="8.4" height="60.50" fill="#f50f0f"/>
<rect x="52.50" y="370.70" width="8.4" height="48.90" fill="#f50f0f"/>
<rect x="63.60" y="386.80" width="8.4" height="32.80" fill="#f50f0f"/>
<rect x="74.70" y="385.80" width="8.4" height="33.80" fill="#f50f0f"/>
<rect x="85.80" y="378.30" width="8.4" height="41.30" fill="#f50f0f"/>
<rect x="96.90" y="415.10" width="8.4" height="4.50" fill="#f50f0f"/>
<rect x="108.00" y="333.70" width="8.4" height="85.90" fill="#f50f0f"/>
<rect x="119.10" y="335.60" width="8.4" height="84.00" fill="#f50f0f"/>
<rect x="130.20" y="387.80" width="8.4" height="31.80" fill="#f50f0f"/>
<rect x="141.30" y="339.50" width="8.4" height="80.10" fill="#f50f0f"/>
<rect x="152.40" y="382.10" width="8.4" height="37.50" fill="#f50f0f"/>
<rect x="163.50" y="375.10" width="8.4" height="44.50" fill="#f50f0f"/>
<rect x="174.60" y="347.40" width="8.4" height="72.20" fill="#f50f0f"/>
<line x1="34.50" y1="383.40" x2="34.50" y2="393.80" stroke="#58607a" stroke-width="0.8"/>
<line x1="33.10" y1="383.40" x2="35.90" y2="383.40" stroke="#58607a" stroke-width="0.8"/>
<line x1="45.60" y1="356.00" x2="45.60" y2="362.20" stroke="#58607a" stroke-width="0.8"/>
<line x1="44.20" y1="356.00" x2="47.00" y2="356.00" stroke="#58607a" stroke-width="0.8"/>
<line x1="56.70" y1="367.90" x2="56.70" y2="373.50" stroke="#58607a" stroke-width="0.8"/>
<line x1="55.30" y1="367.90" x2="58.10" y2="367.90" stroke="#58607a" stroke-width="0.8"/>
<line x1="67.80" y1="383.50" x2="67.80" y2="390.10" stroke="#58607a" stroke-width="0.8"/>
<line x1="66.40" y1="383.50" x2="69.20" y2="383.50" stroke="#58607a" stroke-width="0.8"/>
<line x1="78.90" y1="383.30" x2="78.90" y2="388.30" stroke="#58607a" stroke-width="0.8"/>
<line x1="77.50" y1="383.30" x2="80.30" y2="383.30" stroke="#58607a" stroke-width="0.8"/>
<line x1="90.00" y1="366.50" x2="90.00" y2="390.10" stroke="#58607a" stroke-width="0.8"/>
<line x1="88.60" y1="366.50" x2="91.40" y2="366.50" stroke="#58607a" stroke-width="0.8"/>
<line x1="101.10" y1="411.30" x2="101.10" y2="418.90" stroke="#58607a" stroke-width="0.8"/>
<line x1="99.70" y1="411.30" x2="102.50" y2="411.30" stroke="#58607a" stroke-width="0.8"/>
<line x1="112.20" y1="320.30" x2="112.20" y2="347.10" stroke="#58607a" stroke-width="0.8"/>
<line x1="110.80" y1="320.30" x2="113.60" y2="320.30" stroke="#58607a" stroke-width="0.8"/>
<line x1="123.30" y1="331.60" x2="123.30" y2="339.60" stroke="#58607a" stroke-width="0.8"/>
<line x1="121.90" y1="331.60" x2="124.70" y2="331.60" stroke="#58607a" stroke-width="0.8"/>
<line x1="134.40" y1="376.80" x2="134.40" y2="398.80" stroke="#58607a" stroke-width="0.8"/>
<line x1="133.00" y1="376.80" x2="135.80" y2="376.80" stroke="#58607a" stroke-width="0.8"/>
<line x1="145.50" y1="329.70" x2="145.50" y2="349.30" stroke="#58607a" stroke-width="0.8"/>
<line x1="144.10" y1="329.70" x2="146.90" y2="329.70" stroke="#58607a" stroke-width="0.8"/>
<line x1="156.60" y1="375.10" x2="156.60" y2="389.10" stroke="#58607a" stroke-width="0.8"/>
<line x1="155.20" y1="375.10" x2="158.00" y2="375.10" stroke="#58607a" stroke-width="0.8"/>
<line x1="167.70" y1="373.30" x2="167.70" y2="376.90" stroke="#58607a" stroke-width="0.8"/>
<line x1="166.30" y1="373.30" x2="169.10" y2="373.30" stroke="#58607a" stroke-width="0.8"/>
<line x1="178.80" y1="345.30" x2="178.80" y2="349.50" stroke="#58607a" stroke-width="0.8"/>
<line x1="177.40" y1="345.30" x2="180.20" y2="345.30" stroke="#58607a" stroke-width="0.8"/>
<line x1="28.5" y1="306.8" x2="185.2" y2="306.8" stroke="#9aa0c0" stroke-width="0.9"/>
<line x1="185.2" y1="306.8" x2="185.2" y2="420" stroke="#a0a4b8" stroke-width="0.9"/>
<line x1="28.5" y1="306.8" x2="28.5" y2="420" stroke="#707480" stroke-width="0.9"/>
<line x1="28.5" y1="420" x2="185.2" y2="420" stroke="#707480" stroke-width="0.9"/>
<line x1="26.70" y1="419.30" x2="30.30" y2="419.30" stroke="#707480" stroke-width="0.7"/>
<text transform="translate(24.9,422.20) scale(0.84,1)" font-size="7.5" text-anchor="end" fill="#2a2a2a" stroke="#2a2a2a" stroke-width="0.22">0</text>
<line x1="27.50" y1="409.97" x2="29.50" y2="409.97" stroke="#707480" stroke-width="0.7"/>
<line x1="26.70" y1="400.63" x2="30.30" y2="400.63" stroke="#707480" stroke-width="0.7"/>
<text transform="translate(24.9,403.53) scale(0.84,1)" font-size="7.5" text-anchor="end" fill="#2a2a2a" stroke="#2a2a2a" stroke-width="0.22">20</text>
<line x1="27.50" y1="391.30" x2="29.50" y2="391.30" stroke="#707480" stroke-width="0.7"/>
<line x1="26.70" y1="381.97" x2="30.30" y2="381.97" stroke="#707480" stroke-width="0.7"/>
<text transform="translate(24.9,384.87) scale(0.84,1)" font-size="7.5" text-anchor="end" fill="#2a2a2a" stroke="#2a2a2a" stroke-width="0.22">40</text>
<line x1="27.50" y1="372.63" x2="29.50" y2="372.63" stroke="#707480" stroke-width="0.7"/>
<line x1="26.70" y1="363.30" x2="30.30" y2="363.30" stroke="#707480" stroke-width="0.7"/>
<text transform="translate(24.9,366.20) scale(0.84,1)" font-size="7.5" text-anchor="end" fill="#2a2a2a" stroke="#2a2a2a" stroke-width="0.22">60</text>
<line x1="27.50" y1="353.97" x2="29.50" y2="353.97" stroke="#707480" stroke-width="0.7"/>
<line x1="26.70" y1="344.64" x2="30.30" y2="344.64" stroke="#707480" stroke-width="0.7"/>
<text transform="translate(24.9,347.54) scale(0.84,1)" font-size="7.5" text-anchor="end" fill="#2a2a2a" stroke="#2a2a2a" stroke-width="0.22">80</text>
<line x1="27.50" y1="335.30" x2="29.50" y2="335.30" stroke="#707480" stroke-width="0.7"/>
<line x1="26.70" y1="325.97" x2="30.30" y2="325.97" stroke="#707480" stroke-width="0.7"/>
<text transform="translate(24.9,328.87) scale(0.84,1)" font-size="7.5" text-anchor="end" fill="#2a2a2a" stroke="#2a2a2a" stroke-width="0.22">100</text>
<line x1="27.50" y1="316.64" x2="29.50" y2="316.64" stroke="#707480" stroke-width="0.7"/>
<line x1="26.70" y1="307.30" x2="30.30" y2="307.30" stroke="#707480" stroke-width="0.7"/>
<text transform="translate(24.9,310.20) scale(0.84,1)" font-size="7.5" text-anchor="end" fill="#2a2a2a" stroke="#2a2a2a" stroke-width="0.22">120</text>
<line x1="34.50" y1="420" x2="34.50" y2="422" stroke="#707480" stroke-width="0.7"/>
<line x1="45.60" y1="420" x2="45.60" y2="422" stroke="#707480" stroke-width="0.7"/>
<line x1="56.70" y1="420" x2="56.70" y2="422" stroke="#707480" stroke-width="0.7"/>
<line x1="67.80" y1="420" x2="67.80" y2="422" stroke="#707480" stroke-width="0.7"/>
<line x1="78.90" y1="420" x2="78.90" y2="422" stroke="#707480" stroke-width="0.7"/>
<line x1="90.00" y1="420" x2="90.00" y2="422" stroke="#707480" stroke-width="0.7"/>
<line x1="101.10" y1="420" x2="101.10" y2="422" stroke="#707480" stroke-width="0.7"/>
<line x1="112.20" y1="420" x2="112.20" y2="422" stroke="#707480" stroke-width="0.7"/>
<line x1="123.30" y1="420" x2="123.30" y2="422" stroke="#707480" stroke-width="0.7"/>
<line x1="134.40" y1="420" x2="134.40" y2="422" stroke="#707480" stroke-width="0.7"/>
<line x1="145.50" y1="420" x2="145.50" y2="422" stroke="#707480" stroke-width="0.7"/>
<line x1="156.60" y1="420" x2="156.60" y2="422" stroke="#707480" stroke-width="0.7"/>
<line x1="167.70" y1="420" x2="167.70" y2="422" stroke="#707480" stroke-width="0.7"/>
<line x1="178.80" y1="420" x2="178.80" y2="422" stroke="#707480" stroke-width="0.7"/>
<text transform="translate(13.4,365.8) rotate(-90)" font-size="8.2" text-anchor="middle" fill="#222" stroke="#222" stroke-width="0.22">Cell Viability (%)</text>
<text transform="translate(30.90,426.3) rotate(31)" font-size="7.1" fill="#2a2a2a" stroke="#2a2a2a" stroke-width="0.22">MON-p53</text>
<text transform="translate(42.00,426.3) rotate(31)" font-size="7.1" fill="#2a2a2a" stroke="#2a2a2a" stroke-width="0.22">Fer</text>
<text transform="translate(53.10,426.3) rotate(31)" font-size="7.1" fill="#2a2a2a" stroke="#2a2a2a" stroke-width="0.22">Apo</text>
<text transform="translate(64.20,426.3) rotate(31)" font-size="7.1" fill="#2a2a2a" stroke="#2a2a2a" stroke-width="0.22">Nec</text>
<text transform="translate(75.30,426.3) rotate(31)" font-size="7.1" fill="#2a2a2a" stroke="#2a2a2a" stroke-width="0.22">Aut</text>
<text transform="translate(86.40,426.3) rotate(31)" font-size="7.1" fill="#2a2a2a" stroke="#2a2a2a" stroke-width="0.22">DFO</text>
<text transform="translate(97.50,426.3) rotate(31)" font-size="7.1" fill="#2a2a2a" stroke="#2a2a2a" stroke-width="0.22">Glu</text>
<text transform="translate(108.60,426.3) rotate(31)" font-size="7.1" fill="#2a2a2a" stroke="#2a2a2a" stroke-width="0.22">Cys</text>
<text transform="translate(119.70,426.3) rotate(31)" font-size="7.1" fill="#2a2a2a" stroke="#2a2a2a" stroke-width="0.22">GSH</text>
<text transform="translate(130.80,426.3) rotate(31)" font-size="7.1" fill="#2a2a2a" stroke="#2a2a2a" stroke-width="0.22">VC</text>
<text transform="translate(141.90,426.3) rotate(31)" font-size="7.1" fill="#2a2a2a" stroke="#2a2a2a" stroke-width="0.22">VE</text>
<text transform="translate(153.00,426.3) rotate(31)" font-size="7.1" fill="#2a2a2a" stroke="#2a2a2a" stroke-width="0.22">PEI/p53</text>
<text transform="translate(164.10,426.3) rotate(31)" font-size="7.1" fill="#2a2a2a" stroke="#2a2a2a" stroke-width="0.22">Fer</text>
<text transform="translate(175.20,426.3) rotate(31)" font-size="7.1" fill="#2a2a2a" stroke="#2a2a2a" stroke-width="0.22">Apo</text>
<polyline points="31.6,440 31.6,445.2 152.8,445.2 152.8,441.5" fill="none" stroke="#3ab0a8" stroke-width="0.9"/>
<text x="108" y="443.6" font-size="7.9" text-anchor="middle" fill="#1a9aa8" stroke="#1a9aa8" stroke-width="0.22">MON-p53</text>
<polyline points="153.4,441.5 153.4,444.8 186,444.8" fill="none" stroke="#f08a8a" stroke-width="0.9"/>
<text x="170.4" y="443.3" font-size="8" text-anchor="middle" fill="#e83030" stroke="#e83030" stroke-width="0.22">PEI/p53</text>
<rect x="229.2" y="302.3" width="150.6" height="112.9" fill="none" stroke="#8890a8" stroke-width="0.9"/>
<line x1="227" y1="309.90" x2="229.2" y2="309.90" stroke="#555" stroke-width="0.8"/>
<text x="225" y="313.20" font-size="9.2" text-anchor="end" fill="#222" stroke="#222" stroke-width="0.22">100</text>
<line x1="227" y1="324.81" x2="229.2" y2="324.81" stroke="#555" stroke-width="0.8"/>
<text x="225" y="328.11" font-size="9.2" text-anchor="end" fill="#222" stroke="#222" stroke-width="0.22">86</text>
<line x1="227" y1="339.73" x2="229.2" y2="339.73" stroke="#555" stroke-width="0.8"/>
<text x="225" y="343.03" font-size="9.2" text-anchor="end" fill="#222" stroke="#222" stroke-width="0.22">71</text>
<line x1="227" y1="354.64" x2="229.2" y2="354.64" stroke="#555" stroke-width="0.8"/>
<text x="225" y="357.94" font-size="9.2" text-anchor="end" fill="#222" stroke="#222" stroke-width="0.22">57</text>
<line x1="227" y1="369.46" x2="229.2" y2="369.46" stroke="#555" stroke-width="0.8"/>
<text x="225" y="372.76" font-size="9.2" text-anchor="end" fill="#222" stroke="#222" stroke-width="0.22">43</text>
<line x1="227" y1="384.37" x2="229.2" y2="384.37" stroke="#555" stroke-width="0.8"/>
<text x="225" y="387.67" font-size="9.2" text-anchor="end" fill="#222" stroke="#222" stroke-width="0.22">29</text>
<line x1="227" y1="399.29" x2="229.2" y2="399.29" stroke="#555" stroke-width="0.8"/>
<text x="225" y="402.59" font-size="9.2" text-anchor="end" fill="#222" stroke="#222" stroke-width="0.22">14</text>
<line x1="227" y1="414.20" x2="229.2" y2="414.20" stroke="#555" stroke-width="0.8"/>
<text x="225" y="417.50" font-size="9.2" text-anchor="end" fill="#222" stroke="#222" stroke-width="0.22">0</text>
<line x1="231.20" y1="415.2" x2="231.20" y2="417.2" stroke="#555" stroke-width="0.8"/>
<text x="231.20" y="426.8" font-size="9.2" text-anchor="middle" fill="#222" stroke="#222" stroke-width="0.22">0</text>
<line x1="260.22" y1="415.2" x2="260.22" y2="417.2" stroke="#555" stroke-width="0.8"/>
<text x="260.22" y="426.8" font-size="9.2" text-anchor="middle" fill="#222" stroke="#222" stroke-width="0.22">15</text>
<line x1="289.25" y1="415.2" x2="289.25" y2="417.2" stroke="#555" stroke-width="0.8"/>
<text x="289.25" y="426.8" font-size="9.2" text-anchor="middle" fill="#222" stroke="#222" stroke-width="0.22">30</text>
<line x1="318.27" y1="415.2" x2="318.27" y2="417.2" stroke="#555" stroke-width="0.8"/>
<text x="318.27" y="426.8" font-size="9.2" text-anchor="middle" fill="#222" stroke="#222" stroke-width="0.22">45</text>
<line x1="347.30" y1="415.2" x2="347.30" y2="417.2" stroke="#555" stroke-width="0.8"/>
<text x="347.30" y="426.8" font-size="9.2" text-anchor="middle" fill="#222" stroke="#222" stroke-width="0.22">60</text>
<line x1="376.32" y1="415.2" x2="376.32" y2="417.2" stroke="#555" stroke-width="0.8"/>
<text x="376.32" y="426.8" font-size="9.2" text-anchor="middle" fill="#222" stroke="#222" stroke-width="0.22">75</text>
<text x="305.3" y="438.6" font-size="9.9" text-anchor="middle" fill="#222" stroke="#222" stroke-width="0.22">Time (Day)</text>
<text transform="translate(209.4,366.2) rotate(-90)" font-size="9.4" text-anchor="middle" fill="#222" stroke="#222" stroke-width="0.22">Survival Rate (%)</text>
<path d="M233.13,309.90 H256.36 V324.81 H279.57 V339.73 H302.79 V354.64 H320.21 V369.46 H331.82 V384.37 H372.45 V399.29 H376.32 V399.29" fill="none" stroke="#505050" stroke-width="1.05"/>
<path d="M233.13,309.90 H273.77 V324.81 H296.99 V339.73 H302.79 V354.64 H349.24 V369.46 H366.65 V384.37 H376.32 V384.37" fill="none" stroke="#e86070" stroke-width="1.05"/>
<path d="M233.13,309.90 H262.16 V324.81 H308.60 V339.73 H320.21 V354.64 H337.62 V369.46 H376.32 V369.46" fill="none" stroke="#30d8b8" stroke-width="1.05"/>
<path d="M233.13,309.90 H285.38 V324.81 H362.78 V339.73 H376.32 V339.73" fill="none" stroke="#6060c8" stroke-width="1.05"/>
<path d="M233.13,309.90 H273.77 V324.81 H285.38 V339.73 H302.79 V354.64 H337.62 V369.46 H355.04 V384.37 H378.26 V399.29" fill="none" stroke="#f0a848" stroke-width="1.05"/>
<circle cx="313.50" cy="335.50" r="1.1" fill="#1a1a2a"/>
<circle cx="316.80" cy="335.50" r="1.1" fill="#1a1a2a"/>
<circle cx="320.10" cy="335.50" r="1.1" fill="#1a1a2a"/>
<circle cx="324.40" cy="352.10" r="1.1" fill="#1a1a2a"/>
<circle cx="327.70" cy="352.10" r="1.1" fill="#1a1a2a"/>
<circle cx="331.00" cy="352.10" r="1.1" fill="#1a1a2a"/>
<circle cx="340.00" cy="367.70" r="1.1" fill="#1a1a2a"/>
<circle cx="343.30" cy="367.70" r="1.1" fill="#1a1a2a"/>
<circle cx="346.60" cy="367.70" r="1.1" fill="#1a1a2a"/>
<circle cx="335.30" cy="389.40" r="1.1" fill="#1a1a2a"/>
<circle cx="338.60" cy="389.40" r="1.1" fill="#1a1a2a"/>
<circle cx="341.90" cy="389.40" r="1.1" fill="#1a1a2a"/>
<line x1="236.7" y1="360.30" x2="258.7" y2="360.30" stroke="#505050" stroke-width="1.05"/>
<text x="261" y="363.80" font-size="9.8" fill="#222" stroke="#222" stroke-width="0.22">PBS</text>
<line x1="236.7" y1="372.30" x2="258.7" y2="372.30" stroke="#e86070" stroke-width="1.05"/>
<text x="261" y="375.80" font-size="9.8" fill="#222" stroke="#222" stroke-width="0.22">PEI/p53</text>
<line x1="236.7" y1="384.30" x2="258.7" y2="384.30" stroke="#30d8b8" stroke-width="1.05"/>
<text x="261" y="387.80" font-size="9.8" fill="#222" stroke="#222" stroke-width="0.22">Era</text>
<line x1="236.7" y1="396.30" x2="258.7" y2="396.30" stroke="#6060c8" stroke-width="1.05"/>
<text x="261" y="399.80" font-size="9.8" fill="#222" stroke="#222" stroke-width="0.22">MON-53</text>
<line x1="236.7" y1="408.30" x2="258.7" y2="408.30" stroke="#f0a848" stroke-width="1.05"/>
<text x="261" y="411.80" font-size="9.8" fill="#222" stroke="#222" stroke-width="0.22">MONP</text>
<rect x="36.2" y="452.9" width="42.50" height="17.00" fill="#0000f5"/>
<rect x="78.6" y="452.9" width="42.50" height="17.00" fill="#0000f5"/>
<rect x="121.0" y="452.9" width="42.00" height="17.00" fill="#0000f5"/>
<rect x="36.2" y="469.8" width="42.50" height="17.70" fill="#fa1414"/>
<rect x="78.6" y="469.8" width="42.50" height="17.70" fill="#b0b0f0"/>
<rect x="121.0" y="469.8" width="42.00" height="17.70" fill="#b0b0f0"/>
<rect x="36.2" y="487.4" width="42.50" height="17.80" fill="#ffffff"/>
<rect x="78.6" y="487.4" width="42.50" height="17.80" fill="#ffffff"/>
<rect x="121.0" y="487.4" width="42.00" height="17.80" fill="#d8d8e2"/>
<rect x="36.2" y="505.1" width="42.50" height="17.30" fill="#4a4ad8"/>
<rect x="78.6" y="505.1" width="42.50" height="17.30" fill="#6a6ad0"/>
<rect x="121.0" y="505.1" width="42.00" height="17.30" fill="#8a8ad0"/>
<rect x="36.2" y="522.3" width="42.50" height="17.70" fill="#ff8080"/>
<rect x="78.6" y="522.3" width="42.50" height="17.70" fill="#ff5555"/>
<rect x="121.0" y="522.3" width="42.00" height="17.70" fill="#f8b4a8"/>
<rect x="36.2" y="539.9" width="42.50" height="17.50" fill="#fa0c0c"/>
<rect x="78.6" y="539.9" width="42.50" height="17.50" fill="#ff5858"/>
<rect x="121.0" y="539.9" width="42.00" height="17.50" fill="#ff7070"/>
<rect x="167.3" y="455.20" width="6.7" height="7.06" fill="#ff0000"/>
<rect x="167.3" y="462.16" width="6.7" height="7.06" fill="#ff2c2c"/>
<rect x="167.3" y="469.13" width="6.7" height="7.06" fill="#ff5252"/>
<rect x="167.3" y="476.09" width="6.7" height="7.06" fill="#ff7474"/>
<rect x="167.3" y="483.06" width="6.7" height="7.06" fill="#f09c9c"/>
<rect x="167.3" y="490.02" width="6.7" height="7.06" fill="#f8b8a8"/>
<rect x="167.3" y="496.99" width="6.7" height="7.06" fill="#fcdccc"/>
<rect x="167.3" y="503.95" width="6.7" height="7.06" fill="#f8f6f2"/>
<rect x="167.3" y="510.91" width="6.7" height="7.06" fill="#d8d8e2"/>
<rect x="167.3" y="517.88" width="6.7" height="7.06" fill="#b4b4f0"/>
<rect x="167.3" y="524.84" width="6.7" height="7.06" fill="#9090d4"/>
<rect x="167.3" y="531.81" width="6.7" height="7.06" fill="#6464d4"/>
<rect x="167.3" y="538.77" width="6.7" height="7.06" fill="#3434e4"/>
<rect x="167.3" y="545.74" width="6.7" height="7.06" fill="#0000f5"/>
<text x="174.6" y="461.50" font-size="5" fill="#333" stroke="#333" stroke-width="0.22">1.84</text>
<text x="174.6" y="468.00" font-size="5" fill="#333" stroke="#333" stroke-width="0.22">1.78</text>
<text x="174.6" y="474.50" font-size="5" fill="#333" stroke="#333" stroke-width="0.22">1.72</text>
<text x="174.6" y="481.00" font-size="5" fill="#333" stroke="#333" stroke-width="0.22">1.66</text>
<text x="174.6" y="487.50" font-size="5" fill="#333" stroke="#333" stroke-width="0.22">1.60</text>
<text x="174.6" y="494.00" font-size="5" fill="#333" stroke="#333" stroke-width="0.22">1.54</text>
<text x="174.6" y="500.50" font-size="5" fill="#333" stroke="#333" stroke-width="0.22">1.48</text>
<text x="174.6" y="507.00" font-size="5" fill="#333" stroke="#333" stroke-width="0.22">1.42</text>
<text x="174.6" y="513.50" font-size="5" fill="#333" stroke="#333" stroke-width="0.22">1.36</text>
<text x="174.6" y="520.00" font-size="5" fill="#333" stroke="#333" stroke-width="0.22">1.30</text>
<text x="174.6" y="526.50" font-size="5" fill="#333" stroke="#333" stroke-width="0.22">1.24</text>
<text x="174.6" y="533.00" font-size="5" fill="#333" stroke="#333" stroke-width="0.22">1.18</text>
<text x="174.6" y="539.50" font-size="5" fill="#333" stroke="#333" stroke-width="0.22">1.12</text>
<text x="174.6" y="546.00" font-size="5" fill="#333" stroke="#333" stroke-width="0.22">1.06</text>
<text x="174.6" y="552.90" font-size="5" fill="#333" stroke="#333" stroke-width="0.22">1</text>
<text transform="translate(36.0,461.00) rotate(-26)" font-size="7.5" text-anchor="end" fill="#2a2a2a" stroke="#2a2a2a" stroke-width="0.22">Control</text>
<text transform="translate(36.0,479.40) rotate(-26)" font-size="7.5" text-anchor="end" fill="#2a2a2a" stroke="#2a2a2a" stroke-width="0.22">Fe(II)</text>
<text transform="translate(36.0,498.90) rotate(-26)" font-size="7.5" text-anchor="end" fill="#2a2a2a" stroke="#2a2a2a" stroke-width="0.22">Fe(III)</text>
<text transform="translate(36.0,515.50) rotate(-26)" font-size="7.5" text-anchor="end" fill="#2a2a2a" stroke="#2a2a2a" stroke-width="0.22">PEI/p53</text>
<text transform="translate(5.2,543.60) rotate(-26)" font-size="7.4" fill="#2a2a2a" stroke="#2a2a2a" stroke-width="0.22">MON-p53</text>
<text transform="translate(5.2,564.60) rotate(-26)" font-size="7.4" fill="#2a2a2a" stroke="#2a2a2a" stroke-width="0.22">MON-p53</text>
<text transform="translate(11.8,553.0) rotate(-26)" font-size="7.4" fill="#2a2a2a" stroke="#2a2a2a" stroke-width="0.22">(Fe<tspan font-size="4.6" dy="-2.6">2+</tspan><tspan dy="2.6">)</tspan></text>
<text transform="translate(11.8,573.6) rotate(-26)" font-size="7.4" fill="#2a2a2a" stroke="#2a2a2a" stroke-width="0.22">(Fe<tspan font-size="4.6" dy="-2.6">3+</tspan><tspan dy="2.6">)</tspan></text>
<text x="56.9" y="567.6" font-size="7.8" text-anchor="middle" fill="#222" stroke="#222" stroke-width="0.22">LPO</text>
<text x="102.4" y="567.6" font-size="7.8" text-anchor="middle" fill="#222" stroke="#222" stroke-width="0.22">ROS</text>
<text x="141.3" y="567.6" font-size="7.8" text-anchor="middle" fill="#222" stroke="#222" stroke-width="0.22">NADP+</text>
<text x="142.7" y="576.6" font-size="7.8" text-anchor="middle" fill="#222" stroke="#222" stroke-width="0.22">/NADPH</text>
<rect x="232.1" y="447.2" width="149.3" height="111.8" fill="none" stroke="#9098a8" stroke-width="0.9"/>
<line x1="229.5" y1="553.30" x2="232.1" y2="553.30" stroke="#555" stroke-width="0.8"/>
<text x="228" y="555.40" font-size="9.4" text-anchor="end" fill="#222" stroke="#222" stroke-width="0.22">0</text>
<line x1="229.5" y1="526.95" x2="232.1" y2="526.95" stroke="#555" stroke-width="0.8"/>
<text x="228" y="529.05" font-size="9.4" text-anchor="end" fill="#222" stroke="#222" stroke-width="0.22">500</text>
<line x1="229.5" y1="500.60" x2="232.1" y2="500.60" stroke="#555" stroke-width="0.8"/>
<text x="228" y="502.70" font-size="9.4" text-anchor="end" fill="#222" stroke="#222" stroke-width="0.22">1000</text>
<line x1="229.5" y1="474.25" x2="232.1" y2="474.25" stroke="#555" stroke-width="0.8"/>
<text x="228" y="476.35" font-size="9.4" text-anchor="end" fill="#222" stroke="#222" stroke-width="0.22">1500</text>
<line x1="229.5" y1="447.90" x2="232.1" y2="447.90" stroke="#555" stroke-width="0.8"/>
<text x="228" y="450.00" font-size="9.4" text-anchor="end" fill="#222" stroke="#222" stroke-width="0.22">2000</text>
<line x1="232.1" y1="540.12" x2="233.6" y2="540.12" stroke="#777" stroke-width="0.6"/>
<line x1="232.1" y1="513.77" x2="233.6" y2="513.77" stroke="#777" stroke-width="0.6"/>
<line x1="232.1" y1="487.42" x2="233.6" y2="487.42" stroke="#777" stroke-width="0.6"/>
<line x1="232.1" y1="461.07" x2="233.6" y2="461.07" stroke="#777" stroke-width="0.6"/>
<line x1="237.20" y1="557" x2="237.20" y2="559" stroke="#555" stroke-width="0.8"/>
<text x="237.20" y="570.7" font-size="9.4" text-anchor="middle" fill="#222" stroke="#222" stroke-width="0.22">0</text>
<line x1="265.03" y1="557" x2="265.03" y2="559" stroke="#555" stroke-width="0.8"/>
<text x="265.03" y="570.7" font-size="9.4" text-anchor="middle" fill="#222" stroke="#222" stroke-width="0.22">5</text>
<line x1="292.87" y1="557" x2="292.87" y2="559" stroke="#555" stroke-width="0.8"/>
<text x="292.87" y="570.7" font-size="9.4" text-anchor="middle" fill="#222" stroke="#222" stroke-width="0.22">10</text>
<line x1="320.70" y1="557" x2="320.70" y2="559" stroke="#555" stroke-width="0.8"/>
<text x="320.70" y="570.7" font-size="9.4" text-anchor="middle" fill="#222" stroke="#222" stroke-width="0.22">15</text>
<line x1="348.54" y1="557" x2="348.54" y2="559" stroke="#555" stroke-width="0.8"/>
<text x="348.54" y="570.7" font-size="9.4" text-anchor="middle" fill="#222" stroke="#222" stroke-width="0.22">20</text>
<line x1="376.38" y1="557" x2="376.38" y2="559" stroke="#555" stroke-width="0.8"/>
<text x="376.38" y="570.7" font-size="9.4" text-anchor="middle" fill="#222" stroke="#222" stroke-width="0.22">25</text>
<text x="306.8" y="581.2" font-size="9.9" text-anchor="middle" fill="#222" stroke="#222" stroke-width="0.22">Time (Day)</text>
<text transform="translate(204.6,507.8) rotate(-90)" font-size="10.2" text-anchor="middle" fill="#222" stroke="#222" stroke-width="0.22">Tumor Volume (mm<tspan font-size="6" dy="-3">3</tspan><tspan dy="3">)</tspan></text>
<line x1="259.47" y1="542.00" x2="259.47" y2="548.00" stroke="#555" stroke-width="0.7"/>
<line x1="257.87" y1="542.00" x2="261.07" y2="542.00" stroke="#555" stroke-width="0.7"/>
<line x1="276.17" y1="536.00" x2="276.17" y2="544.40" stroke="#555" stroke-width="0.7"/>
<line x1="274.57" y1="536.00" x2="277.77" y2="536.00" stroke="#555" stroke-width="0.7"/>
<line x1="292.87" y1="531.00" x2="292.87" y2="540.40" stroke="#555" stroke-width="0.7"/>
<line x1="291.27" y1="531.00" x2="294.47" y2="531.00" stroke="#555" stroke-width="0.7"/>
<line x1="309.57" y1="511.50" x2="309.57" y2="526.10" stroke="#555" stroke-width="0.7"/>
<line x1="307.97" y1="511.50" x2="311.17" y2="511.50" stroke="#555" stroke-width="0.7"/>
<line x1="326.27" y1="492.40" x2="326.27" y2="513.60" stroke="#555" stroke-width="0.7"/>
<line x1="324.67" y1="492.40" x2="327.87" y2="492.40" stroke="#555" stroke-width="0.7"/>
<line x1="342.97" y1="485.40" x2="342.97" y2="511.40" stroke="#555" stroke-width="0.7"/>
<line x1="341.37" y1="485.40" x2="344.57" y2="485.40" stroke="#555" stroke-width="0.7"/>
<line x1="359.67" y1="470.40" x2="359.67" y2="518.60" stroke="#555" stroke-width="0.7"/>
<line x1="358.07" y1="470.40" x2="361.27" y2="470.40" stroke="#555" stroke-width="0.7"/>
<line x1="376.38" y1="456.90" x2="376.38" y2="511.90" stroke="#555" stroke-width="0.7"/>
<line x1="374.77" y1="456.90" x2="377.98" y2="456.90" stroke="#555" stroke-width="0.7"/>
<polyline points="242.77,551.60 259.47,545.00 276.17,540.20 292.87,535.70 309.57,518.80 326.27,503.00 342.97,498.40 359.67,494.50 376.38,484.40" fill="none" stroke="#404040" stroke-width="0.9"/>
<line x1="259.47" y1="545.00" x2="259.47" y2="553.00" stroke="#f09090" stroke-width="0.7" stroke-dasharray="1,1"/>
<line x1="257.87" y1="545.00" x2="261.07" y2="545.00" stroke="#f09090" stroke-width="0.7"/>
<line x1="276.17" y1="540.00" x2="276.17" y2="550.00" stroke="#f09090" stroke-width="0.7" stroke-dasharray="1,1"/>
<line x1="274.57" y1="540.00" x2="277.77" y2="540.00" stroke="#f09090" stroke-width="0.7"/>
<line x1="292.87" y1="531.30" x2="292.87" y2="543.30" stroke="#f09090" stroke-width="0.7" stroke-dasharray="1,1"/>
<line x1="291.27" y1="531.30" x2="294.47" y2="531.30" stroke="#f09090" stroke-width="0.7"/>
<line x1="309.57" y1="524.50" x2="309.57" y2="540.50" stroke="#f09090" stroke-width="0.7" stroke-dasharray="1,1"/>
<line x1="307.97" y1="524.50" x2="311.17" y2="524.50" stroke="#f09090" stroke-width="0.7"/>
<line x1="326.27" y1="525.50" x2="326.27" y2="545.50" stroke="#f09090" stroke-width="0.7" stroke-dasharray="1,1"/>
<line x1="324.67" y1="525.50" x2="327.87" y2="525.50" stroke="#f09090" stroke-width="0.7"/>
<line x1="342.97" y1="522.50" x2="342.97" y2="542.50" stroke="#f09090" stroke-width="0.7" stroke-dasharray="1,1"/>
<line x1="341.37" y1="522.50" x2="344.57" y2="522.50" stroke="#f09090" stroke-width="0.7"/>
<line x1="359.67" y1="516.30" x2="359.67" y2="540.30" stroke="#f09090" stroke-width="0.7" stroke-dasharray="1,1"/>
<line x1="358.07" y1="516.30" x2="361.27" y2="516.30" stroke="#f09090" stroke-width="0.7"/>
<line x1="376.38" y1="510.20" x2="376.38" y2="538.20" stroke="#f09090" stroke-width="0.7" stroke-dasharray="1,1"/>
<line x1="374.77" y1="510.20" x2="377.98" y2="510.20" stroke="#f09090" stroke-width="0.7"/>
<polyline points="242.77,551.60 259.47,549.00 276.17,545.00 292.87,537.30 309.57,532.50 326.27,535.50 342.97,532.50 359.67,528.30 376.38,524.20" fill="none" stroke="#f06060" stroke-width="0.9"/>
<line x1="259.47" y1="544.50" x2="259.47" y2="550.50" stroke="#9090d0" stroke-width="0.7" stroke-dasharray="1,1"/>
<line x1="257.87" y1="544.50" x2="261.07" y2="544.50" stroke="#9090d0" stroke-width="0.7"/>
<line x1="276.17" y1="538.50" x2="276.17" y2="546.50" stroke="#9090d0" stroke-width="0.7" stroke-dasharray="1,1"/>
<line x1="274.57" y1="538.50" x2="277.77" y2="538.50" stroke="#9090d0" stroke-width="0.7"/>
<line x1="292.87" y1="537.50" x2="292.87" y2="547.50" stroke="#9090d0" stroke-width="0.7" stroke-dasharray="1,1"/>
<line x1="291.27" y1="537.50" x2="294.47" y2="537.50" stroke="#9090d0" stroke-width="0.7"/>
<line x1="309.57" y1="536.70" x2="309.57" y2="548.70" stroke="#9090d0" stroke-width="0.7" stroke-dasharray="1,1"/>
<line x1="307.97" y1="536.70" x2="311.17" y2="536.70" stroke="#9090d0" stroke-width="0.7"/>
<line x1="326.27" y1="539.20" x2="326.27" y2="555.20" stroke="#9090d0" stroke-width="0.7" stroke-dasharray="1,1"/>
<line x1="324.67" y1="539.20" x2="327.87" y2="539.20" stroke="#9090d0" stroke-width="0.7"/>
<line x1="342.97" y1="535.80" x2="342.97" y2="551.80" stroke="#9090d0" stroke-width="0.7" stroke-dasharray="1,1"/>
<line x1="341.37" y1="535.80" x2="344.57" y2="535.80" stroke="#9090d0" stroke-width="0.7"/>
<line x1="359.67" y1="532.50" x2="359.67" y2="550.50" stroke="#9090d0" stroke-width="0.7" stroke-dasharray="1,1"/>
<line x1="358.07" y1="532.50" x2="361.27" y2="532.50" stroke="#9090d0" stroke-width="0.7"/>
<line x1="376.38" y1="530.00" x2="376.38" y2="550.00" stroke="#9090d0" stroke-width="0.7" stroke-dasharray="1,1"/>
<line x1="374.77" y1="530.00" x2="377.98" y2="530.00" stroke="#9090d0" stroke-width="0.7"/>
<polyline points="242.77,551.60 259.47,547.50 276.17,542.50 292.87,542.50 309.57,542.70 326.27,547.20 342.97,543.80 359.67,541.50 376.38,540.00" fill="none" stroke="#7070d8" stroke-width="0.9"/>
<line x1="259.47" y1="549.20" x2="259.47" y2="555.20" stroke="#f0a0a0" stroke-width="0.7" stroke-dasharray="1,1"/>
<line x1="257.87" y1="549.20" x2="261.07" y2="549.20" stroke="#f0a0a0" stroke-width="0.7"/>
<line x1="276.17" y1="549.20" x2="276.17" y2="555.20" stroke="#f0a0a0" stroke-width="0.7" stroke-dasharray="1,1"/>
<line x1="274.57" y1="549.20" x2="277.77" y2="549.20" stroke="#f0a0a0" stroke-width="0.7"/>
<line x1="292.87" y1="548.00" x2="292.87" y2="556.00" stroke="#f0a0a0" stroke-width="0.7" stroke-dasharray="1,1"/>
<line x1="291.27" y1="548.00" x2="294.47" y2="548.00" stroke="#f0a0a0" stroke-width="0.7"/>
<line x1="309.57" y1="545.80" x2="309.57" y2="555.80" stroke="#f0a0a0" stroke-width="0.7" stroke-dasharray="1,1"/>
<line x1="307.97" y1="545.80" x2="311.17" y2="545.80" stroke="#f0a0a0" stroke-width="0.7"/>
<line x1="326.27" y1="544.50" x2="326.27" y2="556.50" stroke="#f0a0a0" stroke-width="0.7" stroke-dasharray="1,1"/>
<line x1="324.67" y1="544.50" x2="327.87" y2="544.50" stroke="#f0a0a0" stroke-width="0.7"/>
<line x1="342.97" y1="542.00" x2="342.97" y2="556.00" stroke="#f0a0a0" stroke-width="0.7" stroke-dasharray="1,1"/>
<line x1="341.37" y1="542.00" x2="344.57" y2="542.00" stroke="#f0a0a0" stroke-width="0.7"/>
<line x1="359.67" y1="540.30" x2="359.67" y2="556.30" stroke="#f0a0a0" stroke-width="0.7" stroke-dasharray="1,1"/>
<line x1="358.07" y1="540.30" x2="361.27" y2="540.30" stroke="#f0a0a0" stroke-width="0.7"/>
<line x1="376.38" y1="538.20" x2="376.38" y2="556.20" stroke="#f0a0a0" stroke-width="0.7" stroke-dasharray="1,1"/>
<line x1="374.77" y1="538.20" x2="377.98" y2="538.20" stroke="#f0a0a0" stroke-width="0.7"/>
<polyline points="242.77,551.60 259.47,552.20 276.17,552.20 292.87,552.00 309.57,550.80 326.27,550.50 342.97,549.00 359.67,548.30 376.38,547.20" fill="none" stroke="#f08080" stroke-width="0.9"/>
<line x1="259.47" y1="542.70" x2="259.47" y2="552.70" stroke="#60c0a0" stroke-width="0.7" stroke-dasharray="1,1"/>
<line x1="257.87" y1="542.70" x2="261.07" y2="542.70" stroke="#60c0a0" stroke-width="0.7"/>
<line x1="276.17" y1="535.00" x2="276.17" y2="547.00" stroke="#60c0a0" stroke-width="0.7" stroke-dasharray="1,1"/>
<line x1="274.57" y1="535.00" x2="277.77" y2="535.00" stroke="#60c0a0" stroke-width="0.7"/>
<line x1="292.87" y1="522.50" x2="292.87" y2="538.50" stroke="#60c0a0" stroke-width="0.7" stroke-dasharray="1,1"/>
<line x1="291.27" y1="522.50" x2="294.47" y2="522.50" stroke="#60c0a0" stroke-width="0.7"/>
<line x1="309.57" y1="516.00" x2="309.57" y2="534.00" stroke="#60c0a0" stroke-width="0.7" stroke-dasharray="1,1"/>
<line x1="307.97" y1="516.00" x2="311.17" y2="516.00" stroke="#60c0a0" stroke-width="0.7"/>
<line x1="326.27" y1="496.10" x2="326.27" y2="524.10" stroke="#60c0a0" stroke-width="0.7" stroke-dasharray="1,1"/>
<line x1="324.67" y1="496.10" x2="327.87" y2="496.10" stroke="#60c0a0" stroke-width="0.7"/>
<line x1="342.97" y1="491.70" x2="342.97" y2="527.70" stroke="#60c0a0" stroke-width="0.7" stroke-dasharray="1,1"/>
<line x1="341.37" y1="491.70" x2="344.57" y2="491.70" stroke="#60c0a0" stroke-width="0.7"/>
<line x1="359.67" y1="486.60" x2="359.67" y2="530.60" stroke="#60c0a0" stroke-width="0.7" stroke-dasharray="1,1"/>
<line x1="358.07" y1="486.60" x2="361.27" y2="486.60" stroke="#60c0a0" stroke-width="0.7"/>
<line x1="376.38" y1="484.80" x2="376.38" y2="528.80" stroke="#60c0a0" stroke-width="0.7" stroke-dasharray="1,1"/>
<line x1="374.77" y1="484.80" x2="377.98" y2="484.80" stroke="#60c0a0" stroke-width="0.7"/>
<polyline points="242.77,551.60 259.47,547.70 276.17,541.00 292.87,530.50 309.57,525.00 326.27,510.10 342.97,509.70 359.67,508.60 376.38,506.80" fill="none" stroke="#30b090" stroke-width="0.9"/>
<circle cx="242.77" cy="551.60" r="1.75" fill="#101010"/>
<circle cx="259.47" cy="545.00" r="1.75" fill="#101010"/>
<circle cx="276.17" cy="540.20" r="1.75" fill="#101010"/>
<circle cx="292.87" cy="535.70" r="1.75" fill="#101010"/>
<circle cx="309.57" cy="518.80" r="1.75" fill="#101010"/>
<circle cx="326.27" cy="503.00" r="1.75" fill="#101010"/>
<circle cx="342.97" cy="498.40" r="1.75" fill="#101010"/>
<circle cx="359.67" cy="494.50" r="1.75" fill="#101010"/>
<circle cx="376.38" cy="484.40" r="1.75" fill="#101010"/>
<circle cx="242.77" cy="551.60" r="1.75" fill="#ff1010"/>
<circle cx="259.47" cy="549.00" r="1.75" fill="#ff1010"/>
<circle cx="276.17" cy="545.00" r="1.75" fill="#ff1010"/>
<circle cx="292.87" cy="537.30" r="1.75" fill="#ff1010"/>
<circle cx="309.57" cy="532.50" r="1.75" fill="#ff1010"/>
<circle cx="326.27" cy="535.50" r="1.75" fill="#ff1010"/>
<circle cx="342.97" cy="532.50" r="1.75" fill="#ff1010"/>
<circle cx="359.67" cy="528.30" r="1.75" fill="#ff1010"/>
<circle cx="376.38" cy="524.20" r="1.75" fill="#ff1010"/>
<polygon points="242.77,549.55 241.02,553.00 244.52,553.00" fill="#1010f0"/>
<polygon points="259.47,545.45 257.72,548.90 261.22,548.90" fill="#1010f0"/>
<polygon points="276.17,540.45 274.42,543.90 277.92,543.90" fill="#1010f0"/>
<polygon points="292.87,540.45 291.12,543.90 294.62,543.90" fill="#1010f0"/>
<polygon points="309.57,540.65 307.82,544.10 311.32,544.10" fill="#1010f0"/>
<polygon points="326.27,545.15 324.52,548.60 328.02,548.60" fill="#1010f0"/>
<polygon points="342.97,541.75 341.22,545.20 344.72,545.20" fill="#1010f0"/>
<polygon points="359.67,539.45 357.92,542.90 361.42,542.90" fill="#1010f0"/>
<polygon points="376.38,537.95 374.62,541.40 378.12,541.40" fill="#1010f0"/>
<polygon points="242.77,553.65 241.02,550.20 244.52,550.20" fill="#ff1010"/>
<polygon points="259.47,554.25 257.72,550.80 261.22,550.80" fill="#ff1010"/>
<polygon points="276.17,554.25 274.42,550.80 277.92,550.80" fill="#ff1010"/>
<polygon points="292.87,554.05 291.12,550.60 294.62,550.60" fill="#ff1010"/>
<polygon points="309.57,552.85 307.82,549.40 311.32,549.40" fill="#ff1010"/>
<polygon points="326.27,552.55 324.52,549.10 328.02,549.10" fill="#ff1010"/>
<polygon points="342.97,551.05 341.22,547.60 344.72,547.60" fill="#ff1010"/>
<polygon points="359.67,550.35 357.92,546.90 361.42,546.90" fill="#ff1010"/>
<polygon points="376.38,549.25 374.62,545.80 378.12,545.80" fill="#ff1010"/>
<circle cx="242.77" cy="551.60" r="1.75" fill="#006a50"/>
<circle cx="259.47" cy="547.70" r="1.75" fill="#006a50"/>
<circle cx="276.17" cy="541.00" r="1.75" fill="#006a50"/>
<circle cx="292.87" cy="530.50" r="1.75" fill="#006a50"/>
<circle cx="309.57" cy="525.00" r="1.75" fill="#006a50"/>
<circle cx="326.27" cy="510.10" r="1.75" fill="#006a50"/>
<circle cx="342.97" cy="509.70" r="1.75" fill="#006a50"/>
<circle cx="359.67" cy="508.60" r="1.75" fill="#006a50"/>
<circle cx="376.38" cy="506.80" r="1.75" fill="#006a50"/>
<line x1="239.8" y1="456.30" x2="261.4" y2="456.30" stroke="#404040" stroke-width="0.9"/>
<circle cx="250.90" cy="456.30" r="1.5" fill="#101010"/>
<text x="264.7" y="459.90" font-size="10" fill="#222" stroke="#222" stroke-width="0.22">PBS</text>
<line x1="239.8" y1="468.10" x2="261.4" y2="468.10" stroke="#f06060" stroke-width="0.9"/>
<circle cx="250.90" cy="468.10" r="1.5" fill="#ff1010"/>
<text x="264.7" y="471.70" font-size="10" fill="#222" stroke="#222" stroke-width="0.22">PEI/p53</text>
<line x1="239.8" y1="479.90" x2="261.4" y2="479.90" stroke="#7070d8" stroke-width="0.9"/>
<polygon points="250.90,478.10 249.40,481.10 252.40,481.10" fill="#1010f0"/>
<text x="264.7" y="483.50" font-size="10" fill="#222" stroke="#222" stroke-width="0.22">Era</text>
<line x1="239.8" y1="491.70" x2="261.4" y2="491.70" stroke="#f08080" stroke-width="0.9" stroke-dasharray="1.5,0.8"/>
<polygon points="250.90,493.50 249.40,490.50 252.40,490.50" fill="#ff1010"/>
<text x="264.7" y="495.30" font-size="10" fill="#222" stroke="#222" stroke-width="0.22">MON-p53</text>
<line x1="239.8" y1="503.50" x2="261.4" y2="503.50" stroke="#30b090" stroke-width="0.9" stroke-dasharray="1.5,0.8"/>
<circle cx="250.90" cy="503.50" r="1.5" fill="#006a50"/>
<text x="264.7" y="507.10" font-size="10" fill="#222" stroke="#222" stroke-width="0.22">MONP</text>
<circle cx="367.20" cy="478.30" r="1.1" fill="#1a1a2a"/>
<circle cx="370.60" cy="478.30" r="1.1" fill="#1a1a2a"/>
<circle cx="374.00" cy="478.30" r="1.1" fill="#1a1a2a"/>
<circle cx="367.20" cy="498.20" r="1.1" fill="#1a1a2a"/>
<circle cx="370.60" cy="498.20" r="1.1" fill="#1a1a2a"/>
<circle cx="374.00" cy="498.20" r="1.1" fill="#1a1a2a"/>
<circle cx="367.20" cy="514.90" r="1.1" fill="#1a1a2a"/>
<circle cx="370.60" cy="514.90" r="1.1" fill="#1a1a2a"/>
<circle cx="374.00" cy="514.90" r="1.1" fill="#1a1a2a"/>
<circle cx="367.80" cy="535.4" r="1.1" fill="#1a1a2a"/>
<circle cx="371.40" cy="535.4" r="1.1" fill="#1a1a2a"/>
<line x1="238.1" y1="535.7" x2="242.6" y2="546.5" stroke="#333" stroke-width="0.8"/>
<polyline points="240.0,544.3 242.6,546.5 243.2,543.2" fill="none" stroke="#333" stroke-width="0.8"/>
<line x1="259.8" y1="529" x2="263.7" y2="538.9" stroke="#333" stroke-width="0.8"/>
<polyline points="261.09999999999997,536.6999999999999 263.7,538.9 264.3,535.6" fill="none" stroke="#333" stroke-width="0.8"/>
</svg>
</body></html>
